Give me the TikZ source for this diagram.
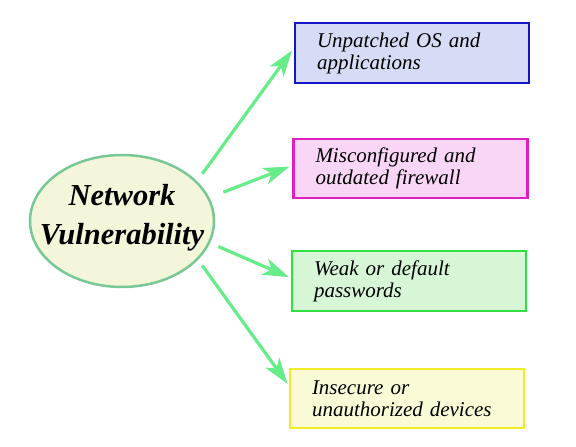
\documentclass[tikz,border=0pt]{standalone}
\usepackage{fontspec}
\setmainfont{Liberation Serif}
\usetikzlibrary{arrows.meta,shapes.geometric}
\definecolor{arrgreen}{RGB}{102,236,136}
\definecolor{ellfill}{RGB}{243,246,216}
\definecolor{elldraw}{RGB}{120,200,150}
\definecolor{bAfill}{RGB}{214,220,246}
\definecolor{bAdraw}{RGB}{20,20,200}
\definecolor{bBfill}{RGB}{249,214,246}
\definecolor{bBdraw}{RGB}{224,32,190}
\definecolor{bCfill}{RGB}{214,246,214}
\definecolor{bCdraw}{RGB}{48,224,64}
\definecolor{bDfill}{RGB}{250,250,214}
\definecolor{bDdraw}{RGB}{240,236,40}
\tikzset{
  x=1pt,y=1pt,
  boxnode/.style={draw, line width=2.5pt, rectangle, minimum height=59pt,
    text width=190pt, inner xsep=22pt, align=left,
    font=\fontsize{21}{22}\selectfont\itshape},
  arr/.style={draw=arrgreen, line width=3.2pt,
    -{Stealth[length=26pt,width=17pt,inset=7pt]}},
}
\begin{document}
\begin{tikzpicture}
\useasboundingbox[fill=white] (0,0) rectangle (576,447);
\node[ellipse, draw=elldraw, line width=2.5pt, fill=ellfill,
  minimum width=184pt, minimum height=132pt, inner xsep=-30pt, inner ysep=-20pt,
  text depth=14pt, align=center,
  font=\fontsize{30.5}{39}\selectfont\bfseries\itshape] (ell) at (122,226)
  {Network\\Vulnerability};
\node[boxnode, fill=bAfill, draw=bAdraw, minimum width=234pt, minimum height=60pt] (b1) at (412,394)
  {Unpatched OS and\\applications};
\node[boxnode, fill=bBfill, draw=bBdraw, minimum width=233pt] (b2) at (410.5,278.5)
  {Misconfigured and\\outdated firewall};
\node[boxnode, fill=bCfill, draw=bCdraw, minimum width=234pt, minimum height=60pt] (b3) at (409,166)
  {Weak or default\\passwords};
\node[boxnode, fill=bDfill, draw=bDdraw, minimum width=234pt] (b4) at (407,48.5)
  {Insecure or\\unauthorized devices};
\draw[arr, shorten <=9pt, shorten >=3pt] (ell.28.5) -- ([yshift=5pt]b1.west);
\draw[arr, shorten <=15pt, shorten >=3pt] (ell.15.6) -- ([yshift=3pt]b2.west);
\draw[arr, shorten <=9pt, shorten >=2pt] (ell.-14) -- ([yshift=3pt]b3.west);
\draw[arr, shorten <=7pt, shorten >=2pt] (ell.-27.7) -- ([yshift=13pt]b4.west);
\end{tikzpicture}
\end{document}
